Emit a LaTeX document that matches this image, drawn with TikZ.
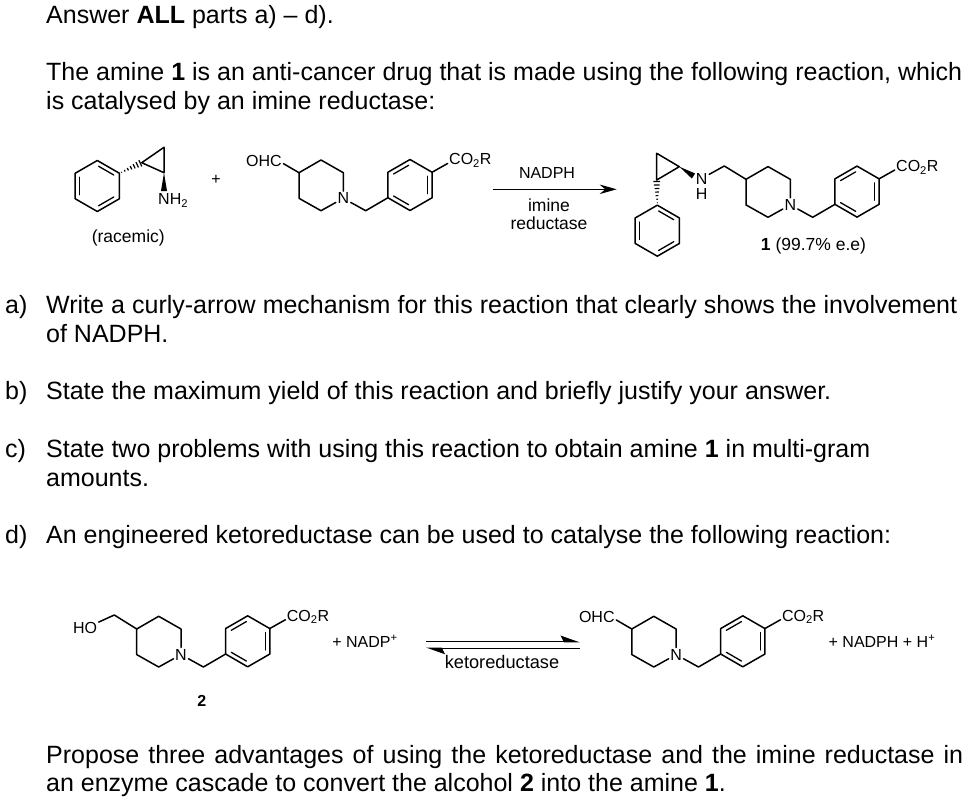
\documentclass[tikz,border=0pt]{standalone}
\usepackage{fontspec}
\setmainfont{Liberation Sans}
\usetikzlibrary{arrows.meta,calc}

\tikzset{
  qtext/.style={anchor=base west,inner sep=0pt,font=\fontsize{25}{28}\selectfont},
  chem/.style={inner sep=0pt,font=\fontsize{16}{18}\selectfont},
  note/.style={inner sep=0pt,font=\fontsize{17.5}{20}\selectfont},
  atom/.style={chem,inner sep=1.5pt},
  bond/.style={line width=1.5pt,line cap=round,line join=round},
  rxn/.style={line width=1.4pt}
}

% ring with three inner bonds, #2 holds the start angles
\newcommand{\benzring}[2]{
  \draw[bond] ($(#1)+(-90:25.5)$) -- ($(#1)+(-30:25.5)$) -- ($(#1)+(30:25.5)$)
    -- ($(#1)+(90:25.5)$) -- ($(#1)+(150:25.5)$) -- ($(#1)+(210:25.5)$) -- cycle;
  \foreach \a in {#2}
    \draw[bond,line width=1.3pt,shorten >=1.5pt,shorten <=1.5pt] ($(#1)+(\a:20.5)$) -- ($(#1)+(\a+60:20.5)$);
}
\newcommand{\hashbond}[2]{
  \foreach \t in {0.1,0.24,...,1.0}{
    \pgfmathsetlengthmacro{\hw}{\t*3.6}
    \draw[line width=1.2pt] ($(#1)!\t!(#2)!\hw!90:(#2)$) -- ($(#1)!\t!(#2)!\hw!-90:(#2)$);
  }
}
\newcommand{\wedgebond}[2]{
  \fill ($(#2)!3pt!90:(#1)$) -- (#1) -- ($(#2)!3pt!-90:(#1)$) -- cycle;
}
% piperidine, benzyl and ester, drawn once and shifted
\newcommand{\ringtail}[3]{
  \begin{scope}[shift={(#1,#2)},name prefix=#3-]
    \coordinate (c4) at (299,172.7);
    \coordinate (c3) at (321,160);
    \coordinate (c2) at (343.3,172.7);
    \node[atom] (n) at (343.3,198.3) {N};
    \coordinate (c6) at (321,210.7);
    \coordinate (c5) at (299,198.3);
    \coordinate (ch) at (365.7,210.7);
    \coordinate (ar) at (410,185);
    \node[chem,anchor=west] (ester) at (449,160.7) {CO\textsubscript{2}R};
    \draw[bond] (c4) -- (c3) -- (c2) -- (n);
    \draw[bond] (n) -- (c6) -- (c5) -- (c4);
    \draw[bond] (n) -- (ch) -- ($(ar)+(150:25.5)$);
    \draw[bond,shorten >=1.5pt] ($(ar)+(-30:25.5)$) -- ([yshift=-2pt]ester.west);
    \benzring{ar}{210,-30,90}
  \end{scope}
}

\begin{document}
\begin{tikzpicture}[x=1pt,y=-1pt]
  \useasboundingbox (0,0) rectangle (967,800);

  \node[qtext] (head) at (46,24) {Answer \textbf{ALL} parts a) – d).};
  \node[qtext] (introa) at (46,81) {\makebox[916pt][s]{The amine \textbf{1} is an anti-cancer drug that is made using the following reaction, which}};
  \node[qtext] (introb) at (46,110) {is catalysed by an imine reductase:};

  \node[qtext] (parta) at (5,313) {a)};
  \node[qtext] (partaa) at (46,313) {\makebox[911pt][s]{Write a curly-arrow mechanism for this reaction that clearly shows the involvement}};
  \node[qtext] (partab) at (46,342) {of NADPH.};
  \node[qtext] (partb) at (5,399) {b)};
  \node[qtext] (partba) at (46,399) {State the maximum yield of this reaction and briefly justify your answer.};
  \node[qtext] (partc) at (5,457) {c)};
  \node[qtext] (partca) at (46,457) {State two problems with using this reaction to obtain amine \textbf{1} in multi-gram};
  \node[qtext] (partcb) at (46,486) {amounts.};
  \node[qtext] (partd) at (5,543) {d)};
  \node[qtext] (partda) at (46,543) {An engineered ketoreductase can be used to catalyse the following reaction:};
  \node[qtext] (endb) at (46,763) {\makebox[917pt][s]{Propose three advantages of using the ketoreductase and the imine reductase in}};
  \node[qtext] (endc) at (46,791) {an enzyme cascade to convert the alcohol \textbf{2} into the amine \textbf{1}.};

  % first line: amine
  \coordinate (pha) at (97.3,186);
  \coordinate (cpa) at (141.7,162.7);
  \coordinate (cpb) at (164,147.3);
  \coordinate (cpc) at (164,172.7);
  \coordinate (nha) at (164,191);
  \benzring{pha}{-90,30,150}
  \draw[bond] (cpa) -- (cpb) -- (cpc) -- cycle;
  \hashbond{$(pha)+(-30:25.5)$}{cpa}
  \wedgebond{cpc}{nha}
  \node[chem,anchor=north west] (amine) at (158,193.5) {NH\textsubscript{2}};
  \node[note] (racemic) at (128.3,237.5) {(racemic)};
  \node[chem] (plusa) at (216,180) {+};

  % aldehyde
  \ringtail{0}{0}{ald}
  \node[chem,anchor=east] (ohca) at (282,160.7) {OHC};
  \draw[bond] (ohca.east) ++(1.5,3) -- (ald-c4);

  % arrow
  \coordinate (arra) at (492.7,189.3);
  \coordinate (arrb) at (616.7,189.3);
  \draw[rxn,-{Stealth[length=17pt,width=9.5pt]}] (arra) -- (arrb);
  \node[chem] (nadph) at (547,173) {NADPH};
  \node[note] (imine) at (549,205.7) {imine};
  \node[note] (reductase) at (549,223.3) {reductase};

  % product
  \coordinate (cpd) at (656.7,153.3);
  \coordinate (cpe) at (656.7,180);
  \coordinate (cpf) at (679.3,166.7);
  \coordinate (phb) at (657.3,230.7);
  \coordinate (wdg) at (693.5,176);
  \draw[bond] (cpd) -- (cpe) -- (cpf) -- cycle;
  \benzring{phb}{-90,30,150}
  \hashbond{$(phb)+(-90:25.5)$}{cpe}
  \wedgebond{cpf}{wdg}
  \ringtail{447}{6.6}{prod}
  \node[atom] (nh) at (701.7,178.5) {N};
  \node[chem] (hh) at (701.7,193.5) {H};
  \coordinate (chb) at (724.3,166);
  \draw[bond] (nh) -- (chb) -- (prod-c4);
  \node[note] (cmpa) at (813.5,246) {\textbf{1} (99.7\% e.e)};

  % second line: alcohol
  \ringtail{-162.3}{456.3}{alc}
  \coordinate (cho) at (114.3,615);
  \node[atom] (hoa) at (85,628.3) {HO};
  \draw[bond] (hoa) -- (cho) -- (alc-c4);
  \node[chem] (cmpb) at (201.7,701) {\textbf{2}};
  \node[chem] (nadp) at (365,641.5) {+ NADP\textsuperscript{+}};

  % equilibrium
  \coordinate (eqa) at (426,641.6);
  \coordinate (eqb) at (579.6,641.6);
  \coordinate (eqc) at (579.6,648.2);
  \coordinate (eqd) at (426,648.2);
  \draw[rxn,-{Stealth[harpoon,length=17pt,width=12pt,inset=3pt]}] (eqa) -- (eqb);
  \draw[rxn,-{Stealth[harpoon,length=17pt,width=12pt,inset=3pt]}] (eqc) -- (eqd);
  \node[inner sep=0pt,font=\fontsize{18.2}{20}\selectfont] (keto) at (502,661.5) {ketoreductase};

  % aldehyde again
  \ringtail{332.8}{456.3}{aldb}
  \node[chem,anchor=east] (ohcb) at (614.8,617) {OHC};
  \draw[bond] (ohcb.east) ++(1.5,3) -- (aldb-c4);
  \node[chem] (nadphb) at (882,641) {+ NADPH + H\textsuperscript{+}};
\end{tikzpicture}
\end{document}
